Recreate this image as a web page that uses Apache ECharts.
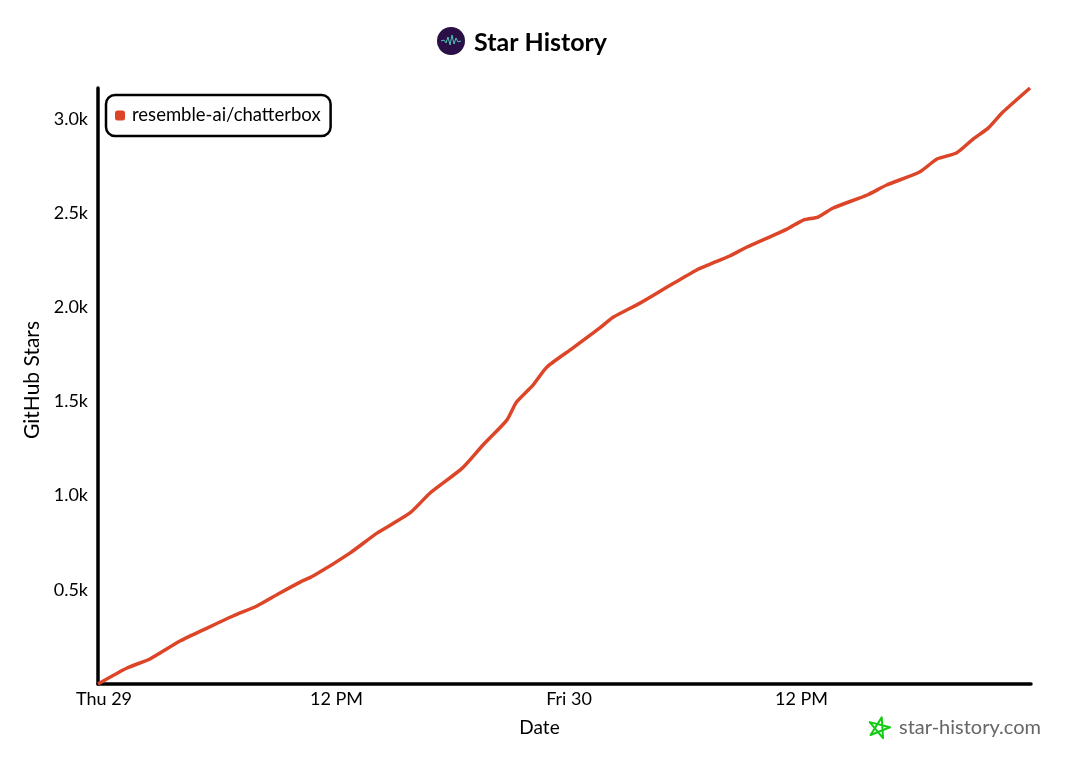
<!DOCTYPE html>
<html>
<head>
<meta charset="utf-8">
<title>Star History</title>
<script src="https://cdn.jsdelivr.net/npm/echarts@6/dist/echarts.min.js"></script>
<style>
  html, body { margin: 0; padding: 0; background: #fff; }
  #container { width: 1080px; height: 771px; }
</style>
</head>
<body>
<div id="container"></div>
<script>
var repoName = 'resemble-ai/chatterbox';
var xTickLabels = ['Thu 29', '12 PM', 'Fri 30', '12 PM'];
// hours since the first star
var hours = [0, 1.5, 2.68, 4.23, 5.63, 6.97, 8.2, 9.39, 10.43, 11.1, 13, 14.4, 16.1, 17.14,
  18.8, 19.87, 21.1, 21.6, 22.45, 23.17, 24.5, 25.9, 26.6, 27.97, 29.37, 30.9, 31.6, 32.6,
  33.5, 35.56, 36.4, 37.16, 37.94, 39.7, 40.7, 42.4, 43.3, 44.3, 45.16, 45.94, 46.7, 48.1];
var stars = [0, 85, 133, 228, 297, 361, 414, 483, 541, 573, 695, 801, 908, 1014,
  1146, 1269, 1401, 1497, 1587, 1683, 1783, 1890, 1948, 2022, 2107, 2198, 2229, 2272,
  2320, 2415, 2463, 2479, 2527, 2596, 2649, 2718, 2787, 2819, 2893, 2951, 3036, 3164];

var font = 'Lato';
var dom = document.getElementById('container');
var myChart = echarts.init(dom, null, {renderer: 'canvas'});

// five pointed star, drawn in one stroke like the logo
function starPoints(cx, cy, r) {
  var pts = [];
  for (var i = 0; i < 5; i++) {
    var a = -Math.PI / 2 + 0.25 + i * 4 * Math.PI / 5;
    pts.push([cx + r * Math.cos(a), cy + r * Math.sin(a)]);
  }
  return pts;
}

var option = {
  backgroundColor: '#fff',
  animation: false,
  textStyle: { fontFamily: font, color: '#000' },
  title: {
    text: 'Star History',
    left: 469,
    top: 25,
    textStyle: { fontFamily: font, fontSize: 25, fontWeight: 'bold', color: '#000' }
  },
  legend: {
    data: [repoName],
    left: 106,
    top: 95,
    padding: [11, 10, 11, 9],
    itemWidth: 10,
    itemHeight: 10,
    itemGap: 7,
    icon: 'roundRect',
    borderColor: '#000',
    borderWidth: 2.5,
    borderRadius: 9,
    textStyle: { fontFamily: font, fontSize: 18.5, color: '#000', padding: [0, 0, 0, 2] }
  },
  grid: { left: 98, right: 49, top: 88, bottom: 87, outerBoundsMode: 'none' },
  xAxis: {
    type: 'value',
    min: 0,
    max: 48.15,
    interval: 12,
    name: 'Date',
    nameLocation: 'middle',
    nameGap: 34,
    nameTextStyle: { fontFamily: font, fontSize: 19, color: '#000', padding: [0, 50, 0, 0] },
    axisLine: { show: true, lineStyle: { color: '#000', width: 3.5 } },
    axisTick: { show: false },
    splitLine: { show: false },
    axisLabel: {
      fontFamily: font,
      fontSize: 18,
      color: '#000',
      margin: 6,
      padding: [0, 0, 0, 12],
      formatter: function (v) {
        return xTickLabels[v / 12] || '';
      }
    }
  },
  yAxis: {
    type: 'value',
    min: 0,
    max: 3164,
    interval: 500,
    name: 'GitHub Stars',
    nameLocation: 'middle',
    nameGap: 51,
    nameTextStyle: { fontFamily: font, fontSize: 21, color: '#000', padding: [0, 0, 0, 12] },
    axisLine: { show: true, lineStyle: { color: '#000', width: 3.5 } },
    axisTick: { show: false },
    splitLine: { show: false },
    axisLabel: {
      fontFamily: font,
      fontSize: 18,
      color: '#000',
      margin: 10,
      formatter: function (v) {
        if (v === 0 || v % 500 !== 0) return '';
        return (v / 1000).toFixed(1) + 'k';
      }
    }
  },
  series: [{
    name: repoName,
    type: 'line',
    data: hours.map(function (h, i) { return [h, stars[i]]; }),
    showSymbol: false,
    smooth: 0.2,
    itemStyle: { color: '#dd4528' },
    lineStyle: { color: '#dd4528', width: 3.5 }
  }],
  graphic: [
    { type: 'circle', shape: { cx: 451, cy: 41, r: 14 }, style: { fill: '#2b1047' } },
    {
      type: 'polyline',
      shape: { points: [[441, 41], [444, 40], [446, 43], [448, 37], [450, 45], [452, 35], [454, 44], [456, 38], [458, 42], [461, 41]] },
      style: { stroke: '#4fc3b8', lineWidth: 1, fill: null }
    },
    {
      type: 'polygon',
      shape: { points: starPoints(879, 728, 11) },
      style: { stroke: '#11cc11', lineWidth: 2, fill: null, lineJoin: 'round' }
    },
    {
      type: 'text',
      left: 899,
      top: 718,
      style: { text: 'star-history.com', fontFamily: font, fontSize: 20, fill: '#666' }
    }
  ]
};

myChart.setOption(option);
</script>
</body>
</html>
